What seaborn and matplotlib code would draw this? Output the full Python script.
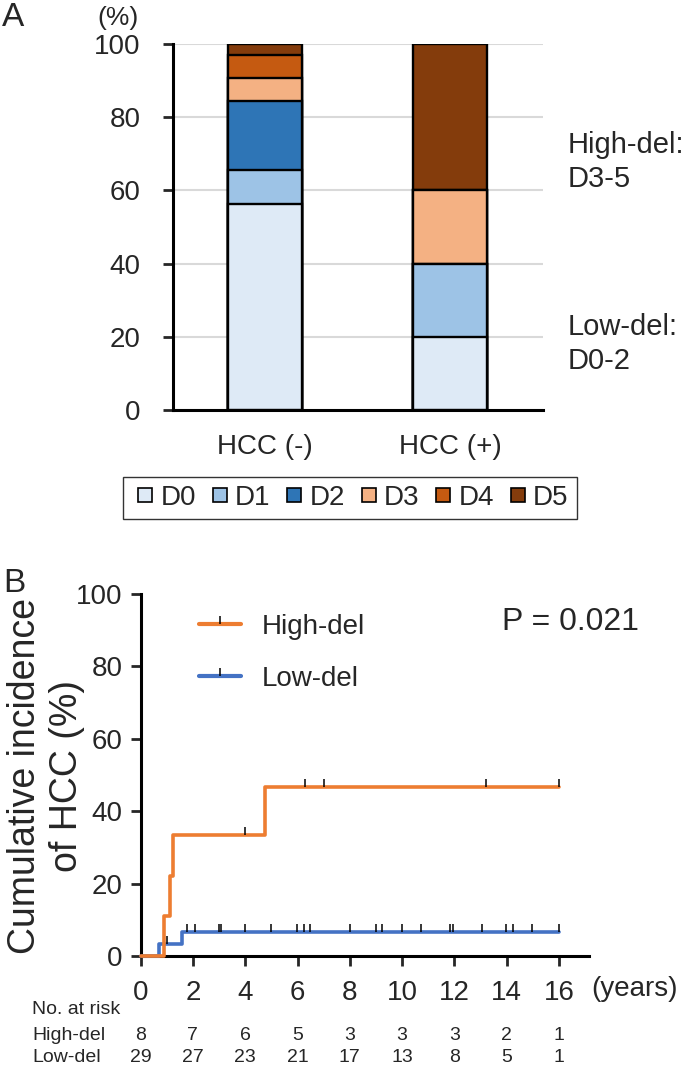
import numpy as np
import pandas as pd
import seaborn as sns
import matplotlib.pyplot as plt
from matplotlib.path import Path
from matplotlib.lines import Line2D
from matplotlib.transforms import blended_transform_factory

# ---- panel A data (% of patients in each deletion grade) ----
groups = ["HCC (-)", "HCC (+)"]
grades = ["D0", "D1", "D2", "D3", "D4", "D5"]
hcc_neg = [56.25, 9.375, 18.75, 6.25, 6.25, 3.125]
hcc_pos = [20, 20, 0, 20, 0, 40]
grade_colors = ["#deeaf6", "#9dc3e6", "#2e75b6", "#f4b183", "#c55a11", "#843c0c"]

# ---- panel B data (cumulative incidence, %) ----
high_times = [0, 0.89, 1.11, 1.23, 4.77, 16]
high_cum = [0, 11.1, 22.2, 33.3, 46.7, 46.7]
high_censor = [4.0, 6.3, 7.0, 13.2, 16.0]
low_times = [0, 0.71, 1.6, 16]
low_cum = [0, 3.4, 6.7, 6.7]
low_censor = [1.02, 1.76, 2.07, 3.0, 3.06, 4.0, 5.0, 5.99, 6.23, 6.48, 8.01,
              9.0, 9.24, 9.99, 10.73, 11.84, 11.96, 13.07, 13.97, 14.24, 14.98, 16.0]
risk_years = [0, 2, 4, 6, 8, 10, 12, 14, 16]
risk_high = [8, 7, 6, 5, 3, 3, 3, 2, 1]
risk_low = [29, 27, 23, 21, 17, 13, 8, 5, 1]

orange = "#ed7d31"
blue = "#4472c4"

sns.set_style("white")
plt.rcParams['font.family'] = ['Liberation Sans', 'DejaVu Sans']

W, H = 685, 1067
fig = plt.figure(figsize=(W / 100, H / 100), dpi=100)


def fx(x):
    return x / W


def fy(y):
    return 1 - y / H


# ================= panel A =================
ax1 = fig.add_axes([fx(172.7), fy(410), fx(542.7) - fx(172.7), fy(44) - fy(410)])

rows = []
for g, vals in zip(groups, [hcc_neg, hcc_pos]):
    for d, v in zip(grades, vals):
        rows.append({"group": g, "grade": d, "pct": v})
df = pd.DataFrame(rows)
df["cum"] = df.groupby("group")["pct"].cumsum()

# tallest (cumulative) first so the lower grades sit on top
for d, c in reversed(list(zip(grades, grade_colors))):
    sub = df[df["grade"] == d]
    sns.barplot(data=sub, x="group", y="cum", color=c, saturation=1,
                edgecolor="black", linewidth=1.7, width=0.4, ax=ax1, zorder=2)

ax1.set_xlim(-0.5, 1.5)
ax1.set_ylim(0, 100)
ax1.set_yticks([0, 20, 40, 60, 80, 100])
ax1.yaxis.grid(True, color="#d9d9d9", linewidth=1.5)
ax1.set_axisbelow(True)
ax1.set_xlabel("")
ax1.set_ylabel("")
ax1.set_xticks([-0.5, 0.5, 1.5], minor=True)
ax1.tick_params(axis="x", which="major", length=0, pad=17, labelsize=20)
ax1.tick_params(axis="x", which="minor", length=7, width=2, direction="out")
ax1.tick_params(axis="y", length=7, width=2, direction="out", pad=16, labelsize=20, left=True)
for s in ["top", "right"]:
    ax1.spines[s].set_visible(False)
for s in ["left", "bottom"]:
    ax1.spines[s].set_linewidth(2.2)
    ax1.spines[s].set_color("black")

fig.text(fx(13), fy(17), "A", fontsize=24, ha="center", va="center")
fig.text(fx(118), fy(18), "(%)", fontsize=19, ha="center", va="center")
fig.text(fx(568), fy(162), "High-del:\nD3-5", fontsize=21, ha="left", va="center", linespacing=1.3)
fig.text(fx(568), fy(344), "Low-del:\nD0-2", fontsize=21, ha="left", va="center", linespacing=1.3)

handles = [Line2D([], [], marker="s", linestyle="none", markersize=10.5,
                  markerfacecolor=c, markeredgecolor="black", markeredgewidth=1.2)
           for c in grade_colors]
leg1 = fig.legend(handles, grades, loc="center", ncol=6, mode="expand",
                  bbox_to_anchor=(fx(123), fy(521), fx(577) - fx(123), fy(475) - fy(521)),
                  fontsize=20, frameon=True, fancybox=False, edgecolor="black",
                  handletextpad=0.05, columnspacing=0.4, borderpad=0.3, handlelength=1.0,
                  borderaxespad=0)
leg1.get_frame().set_linewidth(1.0)

# ================= panel B =================
x_right = 17.15
ax2 = fig.add_axes([fx(140.6), fy(956), (559 - 140.6) / 16 * x_right / W, fy(594) - fy(956)])

tick_up = Path([(0, 0), (0, 1)], [Path.MOVETO, Path.LINETO])

for times, cum, cens, col in [(low_times, low_cum, low_censor, blue),
                              (high_times, high_cum, high_censor, orange)]:
    sns.lineplot(x=times, y=cum, drawstyle="steps-post", color=col, linewidth=2.6,
                 estimator=None, ax=ax2, zorder=4, clip_on=False)
    idx = np.searchsorted(times, cens, side="right") - 1
    cens_y = np.array(cum)[idx]
    sns.scatterplot(x=cens, y=cens_y, marker=tick_up, s=120, color="black",
                    edgecolor="black", linewidth=1.1, ax=ax2, zorder=5, clip_on=False)

ax2.set_xlim(0, x_right)
ax2.set_ylim(0, 100)
ax2.set_xticks(risk_years)
ax2.set_yticks([0, 20, 40, 60, 80, 100])
ax2.tick_params(axis="both", length=7, width=2, direction="out", labelsize=20,
                left=True, bottom=True)
ax2.tick_params(axis="y", pad=6)
ax2.tick_params(axis="x", pad=10)
for s in ["top", "right"]:
    ax2.spines[s].set_visible(False)
for s in ["left", "bottom"]:
    ax2.spines[s].set_linewidth(2.2)
    ax2.spines[s].set_color("black")

fig.text(fx(14), fy(584), "B", fontsize=24, ha="center", va="center")
fig.text(fx(46), fy(776), "Cumulative incidence\nof HCC (%)", fontsize=27,
         rotation=90, ha="center", va="center", multialignment="center", linespacing=1.2)
fig.text(fx(571), fy(622), "P = 0.021", fontsize=23, ha="center", va="center")
fig.text(fx(591), fy(989), "(years)", fontsize=20, ha="left", va="center")

leg_handles = [Line2D([0], [0], color=orange, linewidth=3, marker=tick_up, markersize=12,
                      markeredgecolor="black", markeredgewidth=1.1),
               Line2D([0], [0], color=blue, linewidth=3, marker=tick_up, markersize=12,
                      markeredgecolor="black", markeredgewidth=1.1)]
fig.legend(leg_handles, ["High-del", "Low-del"], loc="upper left",
           bbox_to_anchor=(fx(199), fy(614)), frameon=False, fontsize=20,
           handlelength=1.5, handletextpad=0.75, labelspacing=0.94,
           borderpad=0, borderaxespad=0, numpoints=1)

# number at risk table
tr = blended_transform_factory(ax2.transData, fig.transFigure)
fig.text(fx(32), fy(1009), "No. at risk", fontsize=14, ha="left", va="center")
fig.text(fx(32), fy(1036), "High-del", fontsize=14, ha="left", va="center")
fig.text(fx(32), fy(1058), "Low-del", fontsize=14, ha="left", va="center")
for yr, nh, nl in zip(risk_years, risk_high, risk_low):
    ax2.text(yr, fy(1036), str(nh), transform=tr, fontsize=14, ha="center", va="center")
    ax2.text(yr, fy(1058), str(nl), transform=tr, fontsize=14, ha="center", va="center")

fig.savefig("out.png", dpi=100)
